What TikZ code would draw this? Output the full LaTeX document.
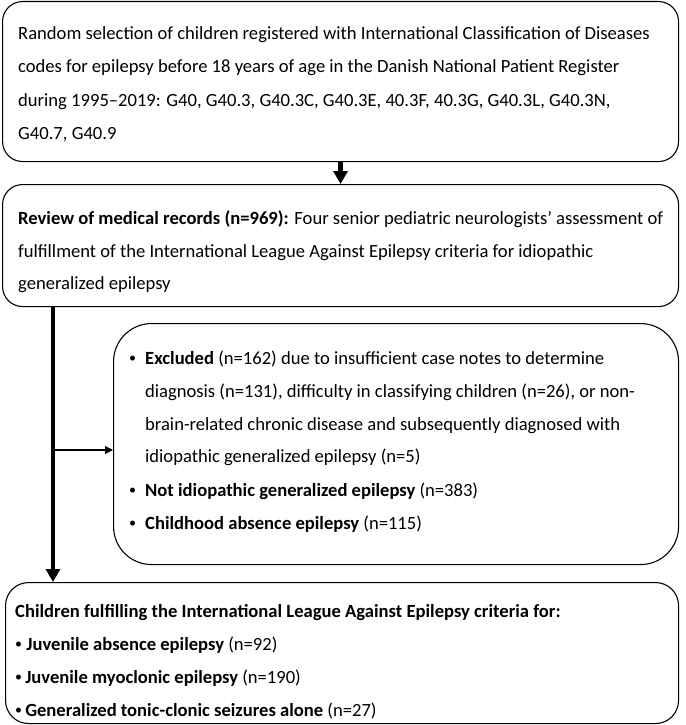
\documentclass[tikz,border=0pt]{standalone}
\usepackage{fontspec}
\setmainfont{Carlito}
\usetikzlibrary{arrows.meta}
\newcommand{\smbul}{\raisebox{1.2pt}{\fontsize{14}{14}\selectfont•}}
\begin{document}
\begin{tikzpicture}[x=1pt,y=-1pt,
  box/.style={draw=black,line width=1.1pt,anchor=north west,inner sep=0pt},
  txt/.style={anchor=base west,inner sep=0pt,font=\fontsize{18.6}{22}\selectfont},
  bul/.style={anchor=base west,inner sep=0pt,font=\fontsize{18.6}{22}\selectfont},
  thick arrow/.style={line width=4.5pt,-{Triangle[width=14pt,length=13pt]}},
  thin arrow/.style={line width=1.1pt,-{Triangle[width=8pt,length=8pt]}}]
\useasboundingbox (0,0) rectangle (685,725);
% boxes
\node[box,rounded corners=20pt,minimum width=676pt,minimum height=160pt] (b1) at (2,1) {};
\node[box,rounded corners=20pt,minimum width=676pt,minimum height=122pt] (b2) at (2,184) {};
\node[box,rounded corners=38pt,minimum width=565pt,minimum height=241pt] (b3) at (113,323) {};
\node[box,rounded corners=23pt,minimum width=673pt,minimum height=141pt] (b4) at (5,582) {};
% box 1 text
\node[txt] (t11) at (18,40) {Random selection of children registered with International Classification of Diseases};
\node[txt] (t12) at (18,73) {codes for epilepsy before 18 years of age in the Danish National Patient Register};
\node[txt] (t13) at (18,106) {during 1995–2019: G40, G40.3, G40.3C, G40.3E, 40.3F, 40.3G, G40.3L, G40.3N,};
\node[txt] (t14) at (18,139) {G40.7, G40.9};
% box 2 text
\node[txt] (t21) at (18,224) {\textbf{Review of medical records (n=969):} Four senior pediatric neurologists’ assessment of};
\node[txt] (t22) at (18,257) {fulfillment of the International League Against Epilepsy criteria for idiopathic};
\node[txt] (t23) at (18,289) {generalized epilepsy};
% box 3 text
\node[bul] (u31) at (129,364) {\smbul};
\node[txt] (t31) at (145,364) {\textbf{Excluded} (n=162) due to insufficient case notes to determine};
\node[txt] (t32) at (145,397) {diagnosis (n=131), difficulty in classifying children (n=26), or non-};
\node[txt] (t33) at (145,430) {brain-related chronic disease and subsequently diagnosed with};
\node[txt] (t34) at (145,462) {idiopathic generalized epilepsy (n=5)};
\node[bul] (u35) at (129,496) {\smbul};
\node[txt] (t35) at (145,496) {\textbf{Not idiopathic generalized epilepsy} (n=383)};
\node[bul] (u36) at (129,529) {\smbul};
\node[txt] (t36) at (145,529) {\textbf{Childhood absence epilepsy} (n=115)};
% box 4 text
\node[txt] (t41) at (15,617) {\textbf{Children fulfilling the International League Against Epilepsy criteria for:}};
\node[txt] (t42) at (15,650) {\smbul\ \textbf{Juvenile absence epilepsy} (n=92)};
\node[txt] (t43) at (15,683) {\smbul\,\textbf{Juvenile myoclonic epilepsy} (n=190)};
\node[txt] (t44) at (15,716) {\smbul\,\textbf{Generalized tonic-clonic seizures alone} (n=27)};
% connectors
\coordinate (tx) at (53,0);
\coordinate (hy) at (0,450);
\draw[thick arrow] (b1.south) -- (b2.north);
\draw[thick arrow] (b2.south -| tx) -- (b4.north -| tx);
\draw[thin arrow] (tx |- hy) -- (b3.west |- hy);
\end{tikzpicture}
\end{document}
